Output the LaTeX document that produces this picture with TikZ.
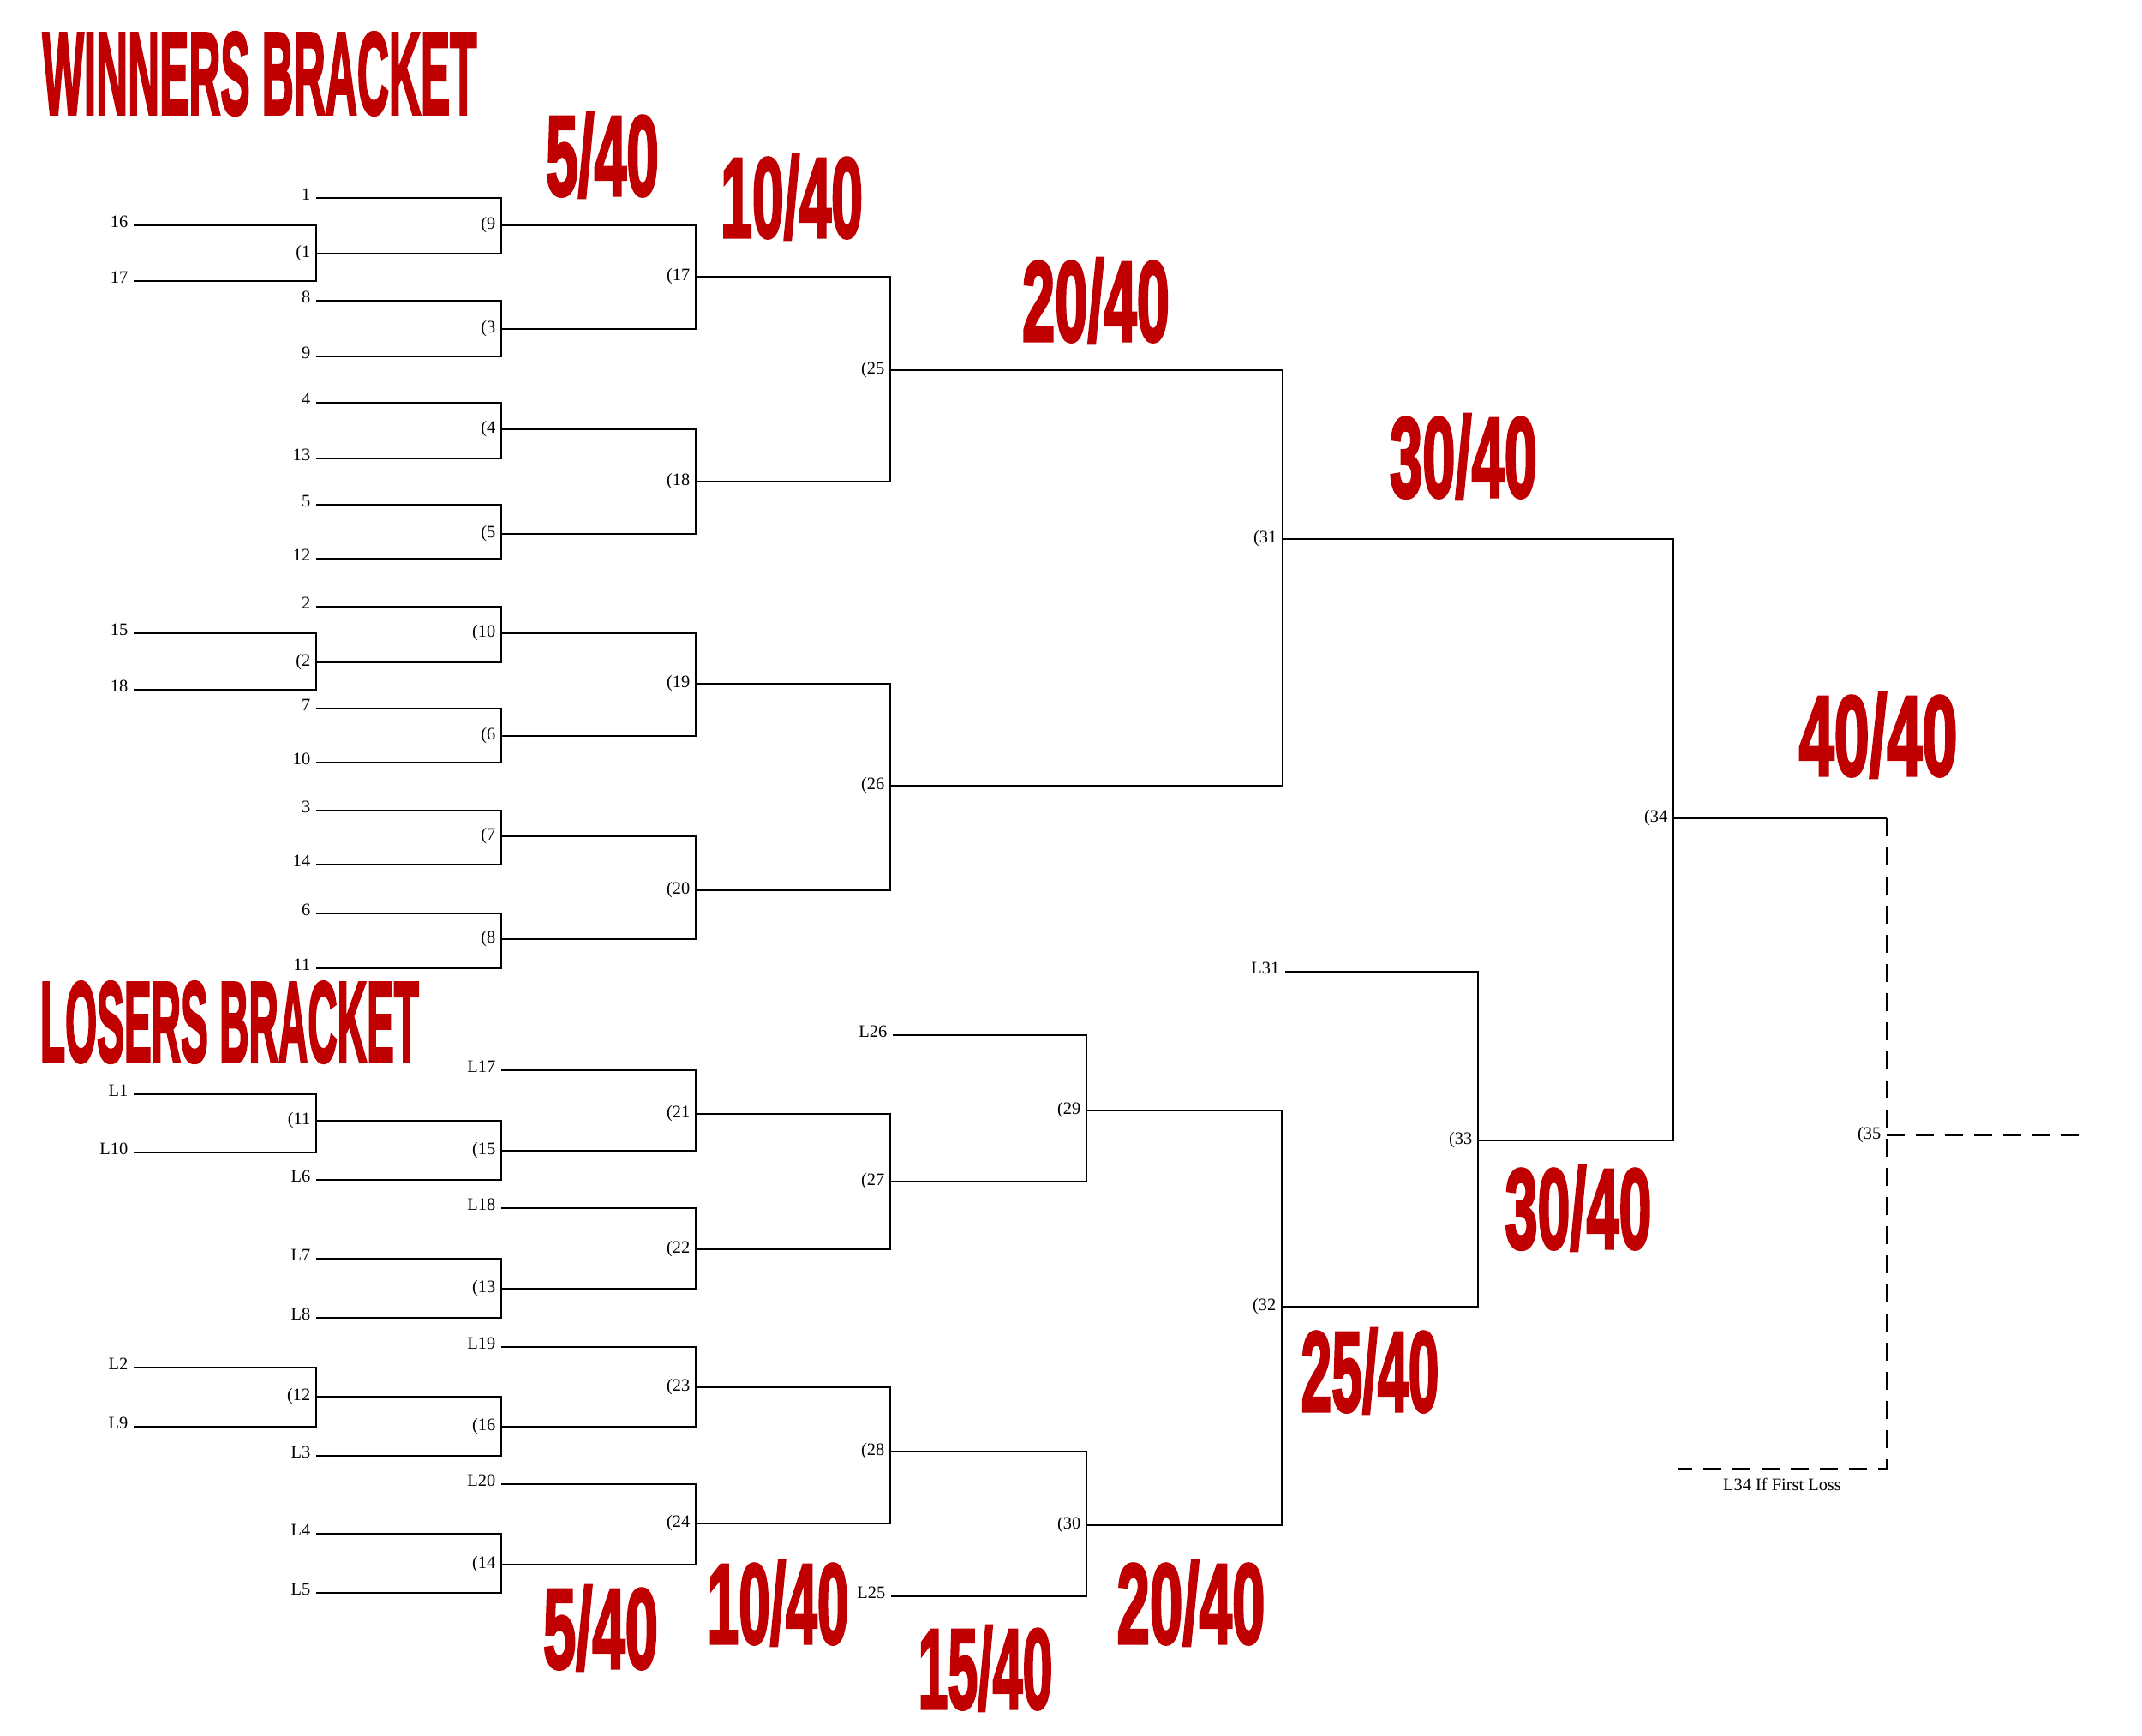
\documentclass[tikz,border=0pt]{standalone}
\usepackage{fontspec}
\setmainfont{Liberation Serif}
\newfontfamily\scorefont{Liberation Sans}[FakeBold=3]
\usepackage{tikz}
\usetikzlibrary{positioning}
\definecolor{bracketred}{RGB}{192, 0, 0}

\begin{document}
\begin{tikzpicture}[x=1cm, y=-1cm,
    bracket/.style={line width=0.7pt, line join=miter},
    ifloss/.style={bracket, dash pattern=on 0.21cm off 0.13cm},
    seed/.style={anchor=base east, xshift=-0.06cm, yshift=-0.025cm, inner sep=0, font=\fontsize{5.8}{6}\selectfont},
    game/.style={anchor=east, xshift=-0.06cm, inner sep=0, font=\fontsize{5.8}{6}\selectfont},
    score/.style={inner sep=0, text=bracketred, font=\scorefont\bfseries}]
    \fill[white] (0,0) rectangle (25,20.25);
    \useasboundingbox (0,0) rectangle (25,20.25);

    % 胜者组 种子
    \foreach \s/\x/\y in {16/1.56/2.63, 17/1.56/3.28, 15/1.56/7.39, 18/1.56/8.05,
        1/3.69/2.31, 8/3.69/3.51, 9/3.69/4.16, 4/3.69/4.70, 13/3.69/5.35, 5/3.69/5.89, 12/3.69/6.52,
        2/3.69/7.08, 7/3.69/8.27, 10/3.69/8.90, 3/3.69/9.46, 14/3.69/10.09, 6/3.69/10.66, 11/3.69/11.30}{
        \coordinate (s\s) at (\x,\y);
        \node[seed] (ts\s) at (s\s) {\s};
    }

    % 败者组 入口
    \foreach \s/\x/\y in {1/1.56/12.77, 10/1.56/13.45, 2/1.56/15.96, 9/1.56/16.65,
        6/3.69/13.77, 7/3.69/14.69, 8/3.69/15.38, 3/3.69/16.99, 4/3.69/17.90, 5/3.69/18.59,
        17/5.85/12.49, 18/5.85/14.10, 19/5.85/15.72, 20/5.85/17.32,
        26/10.42/12.08, 25/10.40/18.63, 31/15.00/11.34}{
        \coordinate (l\s) at (\x,\y);
        \node[seed] (tl\s) at (l\s) {L\s};
    }

    % 比赛
    \foreach \a/\b/\g/\x/\y in {s16/s17/1/3.69/2.96, s15/s18/2/3.69/7.73,
        s1/g1/9/5.85/2.63, s8/s9/3/5.85/3.84, s4/s13/4/5.85/5.01, s5/s12/5/5.85/6.23,
        s2/g2/10/5.85/7.39, s7/s10/6/5.85/8.59, s3/s14/7/5.85/9.76, s6/s11/8/5.85/10.96,
        g9/g3/17/8.12/3.23, g4/g5/18/8.12/5.62, g10/g6/19/8.12/7.98, g7/g8/20/8.12/10.39,
        g17/g18/25/10.39/4.32, g19/g20/26/10.39/9.17,
        g25/g26/31/14.97/6.29,
        l1/l10/11/3.69/13.08, l2/l9/12/3.69/16.30,
        g11/l6/15/5.85/13.43, l7/l8/13/5.85/15.04, g12/l3/16/5.85/16.65, l4/l5/14/5.85/18.26,
        l17/g15/21/8.12/13.00, l18/g13/22/8.12/14.58, l19/g16/23/8.12/16.19, l20/g14/24/8.12/17.78,
        g21/g22/27/10.39/13.79, g23/g24/28/10.39/16.94,
        l26/g27/29/12.68/12.96, g28/l25/30/12.68/17.80,
        g29/g30/32/14.96/15.25,
        l31/g32/33/17.25/13.31,
        g31/g33/34/19.53/9.55}{
        \coordinate (g\g) at (\x,\y);
        \draw[bracket] (\a) -- (\a -| g\g) -- (\b -| g\g) -- (\b);
        \node[game] (tg\g) at (g\g) {(\g};
    }

    % 决赛
    \coordinate (g35) at (22.02,13.25);
    \coordinate (l34) at (19.58,17.14);
    \coordinate (e35) at (24.35,13.25);
    \draw[bracket] (g34) -- (g34 -| g35);
    \draw[ifloss] (g34 -| g35) -- (l34 -| g35) -- (l34);
    \draw[ifloss] (g35) -- (e35);
    \node[game] (tg35) at (g35) {(35};
    \path (l34) -- (l34 -| g35) coordinate[midway] (m34);
    \node[below=0.1cm of m34, inner sep=0, font=\fontsize{5.8}{6}\selectfont] (tl34) {L34 If First Loss};

    % 标题与分数
    \node[score] (wtitle) at (3.03,0.86) {\resizebox{5.07cm}{0.95cm}{WINNERS BRACKET}};
    \node[score] (ltitle) at (2.68,11.93) {\resizebox{4.42cm}{0.93cm}{LOSERS BRACKET}};
    \node[score] (w5) at (7.03,1.81) {\resizebox{1.32cm}{0.96cm}{5/40}};
    \node[score] (w10) at (9.24,2.30) {\resizebox{1.66cm}{0.96cm}{10/40}};
    \node[score] (w20) at (12.79,3.51) {\resizebox{1.72cm}{0.96cm}{20/40}};
    \node[score] (w30) at (17.08,5.33) {\resizebox{1.72cm}{0.96cm}{30/40}};
    \node[score] (f40) at (21.92,8.58) {\resizebox{1.85cm}{0.96cm}{40/40}};
    \node[score] (l30) at (18.42,14.10) {\resizebox{1.71cm}{0.96cm}{30/40}};
    \node[score] (l25) at (15.99,16.00) {\resizebox{1.61cm}{0.96cm}{25/40}};
    \node[score] (l20) at (13.90,18.71) {\resizebox{1.73cm}{0.96cm}{20/40}};
    \node[score] (l10) at (9.08,18.71) {\resizebox{1.65cm}{0.96cm}{10/40}};
    \node[score] (l15) at (11.50,19.47) {\resizebox{1.57cm}{0.96cm}{15/40}};
    \node[score] (l5) at (7.01,19.00) {\resizebox{1.34cm}{0.96cm}{5/40}};
\end{tikzpicture}
\end{document}
